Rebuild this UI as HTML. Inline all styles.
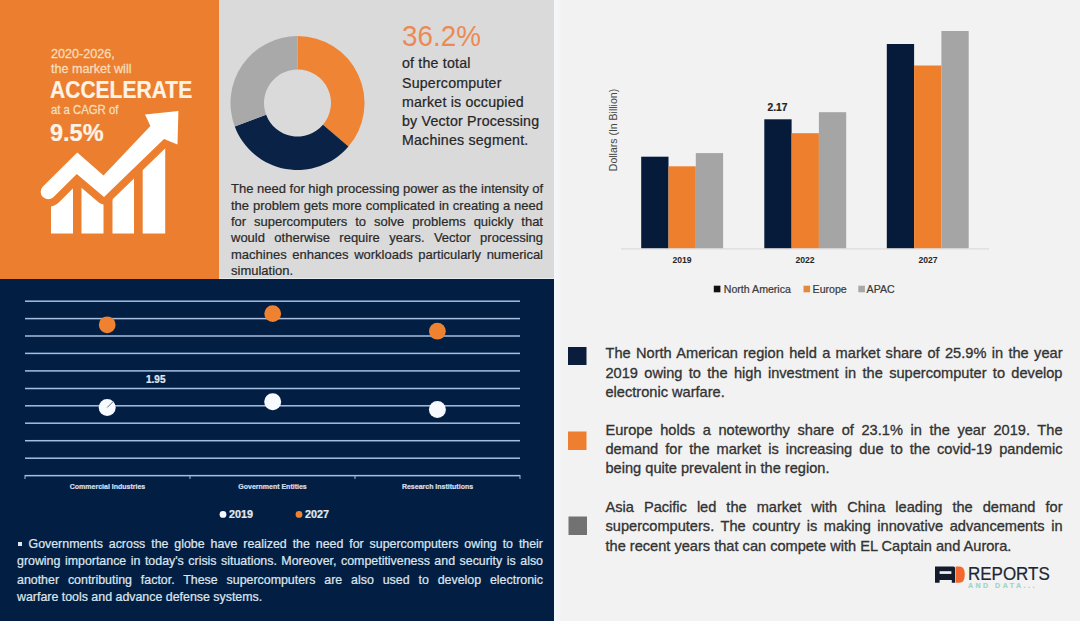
<!DOCTYPE html>
<html><head><meta charset="utf-8">
<style>
html,body{margin:0;padding:0;}
body{width:1080px;height:621px;overflow:hidden;position:relative;background:#f2f2f2;font-family:"Liberation Sans",sans-serif;}
.t{position:absolute;white-space:nowrap;-webkit-text-stroke:0.22px currentColor;}
.abs{position:absolute;}
</style></head><body>
<div class="abs" style="left:0;top:0;width:219px;height:279px;background:#eb7f2f;"></div>
<div class="abs" style="left:219px;top:0;width:335px;height:279px;background:#dadada;"></div>
<div class="abs" style="left:0;top:279px;width:554px;height:342px;background:#021f43;"></div>
<div class="abs" style="left:554px;top:0;width:8px;height:621px;background:linear-gradient(to right,#f4f8fc,#f2f2f2);"></div>
<div class="t" style="left:51px;top:46.67px;font-size:12.6px;line-height:15.12px;color:#f8dcbc;font-weight:normal;-webkit-text-stroke:0.3px #f8dcbc;">2020-2026,</div>
<div class="t" style="left:51px;top:61.77px;font-size:12.6px;line-height:15.12px;color:#f8dcbc;font-weight:normal;-webkit-text-stroke:0.3px #f8dcbc;">the market will</div>
<div class="t" style="left:50px;top:76.26px;font-size:23.5px;line-height:28.2px;color:#fdf3e6;font-weight:bold;transform:scaleX(0.895);transform-origin:0 0;">ACCELERATE</div>
<div class="t" style="left:51px;top:103.47px;font-size:12.6px;line-height:15.12px;color:#f8dcbc;font-weight:normal;transform:scaleX(0.9);transform-origin:0 0;-webkit-text-stroke:0.3px #f8dcbc;">at a CAGR of</div>
<div class="t" style="left:50px;top:118.76px;font-size:23.5px;line-height:28.2px;color:#fdf3e6;font-weight:bold;">9.5%</div>
<svg class="abs" style="left:0;top:0" width="219" height="278" viewBox="0 0 219 278">
<defs><clipPath id="bc"><polygon points="0,240 48,192 77,163.3 103.8,186.4 157.2,132.5 219,132.5 219,278 0,278"/></clipPath></defs>
<g clip-path="url(#bc)"><rect x="51" y="100" width="22" height="133.5" fill="#fff"/><rect x="81.5" y="100" width="22.0" height="133.5" fill="#fff"/><rect x="112.5" y="100" width="21.5" height="133.5" fill="#fff"/><rect x="142.7" y="100" width="22.5" height="133.5" fill="#fff"/></g>
<path d="M77.3,152.6 L103.5,175.6 L150.4,126 L145,114.5 L178.4,111 L177.5,144.4 L164,139 L104,197.1 L76.8,174 L53.3,197.3 A7.5,7.5 0 0 1 42.7,186.7 Z" fill="#eb7f2f" stroke="#eb7f2f" stroke-width="15" stroke-linejoin="round"/>
<path d="M77.3,152.6 L103.5,175.6 L150.4,126 L145,114.5 L178.4,111 L177.5,144.4 L164,139 L104,197.1 L76.8,174 L53.3,197.3 A7.5,7.5 0 0 1 42.7,186.7 Z" fill="#fff"/>
</svg>
<svg class="abs" style="left:0;top:0" width="554" height="278"><path d="M297.50,36.00 A67,67 0 0 1 348.45,146.51 L322.97,124.76 A33.5,33.5 0 0 0 297.50,69.50 Z" fill="#ee8434"/><path d="M348.45,146.51 A67,67 0 0 1 234.74,126.46 L266.12,114.73 A33.5,33.5 0 0 0 322.97,124.76 Z" fill="#0a2246"/><path d="M234.74,126.46 A67,67 0 0 1 297.50,36.00 L297.50,69.50 A33.5,33.5 0 0 0 266.12,114.73 Z" fill="#a9a9a9"/></svg>
<div class="t" style="left:402px;top:17.87px;font-size:29.3px;line-height:35.16px;color:#ec8a55;font-weight:normal;transform:scaleX(0.95);transform-origin:0 0;-webkit-text-stroke:0;">36.2%</div>
<div class="t" style="left:402px;top:54.86px;font-size:14.2px;line-height:17.04px;color:#262626;font-weight:normal;letter-spacing:0.2px;">of the total</div>
<div class="t" style="left:402px;top:74.56px;font-size:14.2px;line-height:17.04px;color:#262626;font-weight:normal;letter-spacing:0.2px;">Supercomputer</div>
<div class="t" style="left:402px;top:93.86px;font-size:14.2px;line-height:17.04px;color:#262626;font-weight:normal;letter-spacing:0.2px;">market is occupied</div>
<div class="t" style="left:402px;top:113.26px;font-size:14.2px;line-height:17.04px;color:#262626;font-weight:normal;letter-spacing:0.2px;">by Vector Processing</div>
<div class="t" style="left:402px;top:132.36px;font-size:14.2px;line-height:17.04px;color:#262626;font-weight:normal;letter-spacing:0.2px;">Machines segment.</div>
<div class="t" style="left:231px;top:181.10px;font-size:13px;line-height:15.6px;color:#2a2a2a;font-weight:normal;width:312px;text-align:justify;text-align-last:justify;">The need for high processing power as the intensity of</div>
<div class="t" style="left:231px;top:197.50px;font-size:13px;line-height:15.6px;color:#2a2a2a;font-weight:normal;width:312px;text-align:justify;text-align-last:justify;">the problem gets more complicated in creating a need</div>
<div class="t" style="left:231px;top:214.30px;font-size:13px;line-height:15.6px;color:#2a2a2a;font-weight:normal;width:312px;text-align:justify;text-align-last:justify;">for supercomputers to solve problems quickly that</div>
<div class="t" style="left:231px;top:230.20px;font-size:13px;line-height:15.6px;color:#2a2a2a;font-weight:normal;width:312px;text-align:justify;text-align-last:justify;">would otherwise require years. Vector processing</div>
<div class="t" style="left:231px;top:246.90px;font-size:13px;line-height:15.6px;color:#2a2a2a;font-weight:normal;width:312px;text-align:justify;text-align-last:justify;">machines enhances workloads particularly numerical</div>
<div class="t" style="left:231px;top:262.90px;font-size:13px;line-height:15.6px;color:#2a2a2a;font-weight:normal;width:312px;">simulation.</div>
<div class="abs" style="left:219px;top:277.6px;width:335px;height:1.4px;background:#e8ebef;"></div>
<div class="abs" style="left:0;top:279px;width:554px;height:6px;background:#021f43;"></div>
<svg class="abs" style="left:0;top:0" width="554" height="621">
<rect x="25" y="300.45" width="495" height="1.5" fill="#a6bedf"/><rect x="25" y="317.85" width="495" height="1.5" fill="#a6bedf"/><rect x="25" y="335.25" width="495" height="1.5" fill="#a6bedf"/><rect x="25" y="352.65" width="495" height="1.5" fill="#a6bedf"/><rect x="25" y="370.15" width="495" height="1.5" fill="#a6bedf"/><rect x="25" y="387.75" width="495" height="1.5" fill="#a6bedf"/><rect x="25" y="405.05" width="495" height="1.5" fill="#a6bedf"/><rect x="25" y="422.45" width="495" height="1.5" fill="#a6bedf"/><rect x="25" y="439.95" width="495" height="1.5" fill="#a6bedf"/><rect x="25" y="457.45" width="495" height="1.5" fill="#a6bedf"/><rect x="25" y="474.9" width="495" height="1.5" fill="#a6bedf"/><rect x="24.5" y="475" width="1" height="4" fill="#a6bedf"/><rect x="189.5" y="475" width="1" height="4" fill="#a6bedf"/><rect x="354.5" y="475" width="1" height="4" fill="#a6bedf"/><rect x="519.5" y="475" width="1" height="4" fill="#a6bedf"/>
<circle cx="107.2" cy="324.8" r="8.4" fill="#ee8230"/>
<circle cx="272.7" cy="313.6" r="8.4" fill="#ee8230"/>
<circle cx="437.4" cy="331.2" r="8.4" fill="#ee8230"/>
<circle cx="107.2" cy="407.5" r="8.5" fill="#f7fbff"/>
<circle cx="272.7" cy="401.8" r="8.5" fill="#f7fbff"/>
<circle cx="437.4" cy="409.6" r="8.5" fill="#f7fbff"/>
<line x1="107.2" y1="407.5" x2="113.5" y2="401.2" stroke="#5a6a80" stroke-width="1"/>
<circle cx="223" cy="514.4" r="3.4" fill="#f7fbff"/>
<circle cx="299" cy="514.4" r="3.4" fill="#ee8230"/>
</svg>
<div class="t" style="left:146px;top:373.84px;font-size:10px;line-height:12.0px;color:#e3e8f0;font-weight:bold;">1.95</div>
<div class="t" style="left:47.5px;width:120px;text-align:center;top:482.0px;font-size:7px;line-height:9px;font-weight:bold;color:#d6deea;">Commercial Industries</div>
<div class="t" style="left:212.5px;width:120px;text-align:center;top:482.0px;font-size:7px;line-height:9px;font-weight:bold;color:#d6deea;">Government Entities</div>
<div class="t" style="left:377.5px;width:120px;text-align:center;top:482.0px;font-size:7px;line-height:9px;font-weight:bold;color:#d6deea;">Research Institutions</div>
<div class="t" style="left:229px;top:507.58px;font-size:10.8px;line-height:12.96px;color:#e3e8f0;font-weight:bold;">2019</div>
<div class="t" style="left:305px;top:507.58px;font-size:10.8px;line-height:12.96px;color:#e3e8f0;font-weight:bold;">2027</div>
<div class="abs" style="left:17.8px;top:541.5px;width:4.6px;height:4.3px;background:#dfe5ee;"></div>
<div class="t" style="left:28.5px;top:536.76px;font-size:12.4px;line-height:14.88px;color:#dfe5ee;font-weight:normal;width:514.5px;text-align:justify;text-align-last:justify;">Governments across the globe have realized the need for supercomputers owing to their</div>
<div class="t" style="left:17px;top:554.36px;font-size:12.4px;line-height:14.88px;color:#dfe5ee;font-weight:normal;width:526px;text-align:justify;text-align-last:justify;">growing importance in today's crisis situations. Moreover, competitiveness and security is also</div>
<div class="t" style="left:17px;top:572.86px;font-size:12.4px;line-height:14.88px;color:#dfe5ee;font-weight:normal;width:526px;text-align:justify;text-align-last:justify;">another contributing factor. These supercomputers are also used to develop electronic</div>
<div class="t" style="left:17px;top:590.46px;font-size:12.4px;line-height:14.88px;color:#dfe5ee;font-weight:normal;width:526px;">warfare tools and advance defense systems.</div>
<svg class="abs" style="left:554px;top:0" width="526" height="621" viewBox="554 0 526 621">
<rect x="621" y="248.2" width="368" height="1.3" fill="#dcdcdc"/>
<rect x="641.20" y="156.7" width="27.30" height="91.50" fill="#061a3a"/><rect x="668.50" y="166.3" width="27.30" height="81.90" fill="#ee7f2d"/><rect x="695.80" y="153.1" width="27.30" height="95.10" fill="#a5a5a5"/><rect x="764.30" y="119.3" width="27.30" height="128.90" fill="#061a3a"/><rect x="791.60" y="133.2" width="27.30" height="115.00" fill="#ee7f2d"/><rect x="818.90" y="112.2" width="27.30" height="136.00" fill="#a5a5a5"/><rect x="886.80" y="44" width="27.30" height="204.20" fill="#061a3a"/><rect x="914.10" y="65.5" width="27.30" height="182.70" fill="#ee7f2d"/><rect x="941.40" y="31" width="27.30" height="217.20" fill="#a5a5a5"/>
<rect x="713.8" y="285.7" width="6.6" height="6.6" fill="#111"/>
<rect x="803.5" y="285.7" width="6.6" height="6.6" fill="#e3893f"/>
<rect x="858.3" y="285.7" width="6.6" height="6.6" fill="#a8a8a8"/>
<rect x="568" y="347" width="18.5" height="18" fill="#0b1d3d"/>
<rect x="568" y="431.5" width="18.5" height="18.5" fill="#ee7f30"/>
<rect x="568.5" y="516.5" width="18.5" height="18.5" fill="#727272"/>
</svg>
<div class="t" style="left:767.5px;top:101.55px;font-size:10.2px;line-height:12.24px;color:#222;font-weight:bold;">2.17</div>
<div class="t" style="left:652px;width:60px;text-align:center;top:255.3px;font-size:8.6px;line-height:10px;font-weight:bold;color:#262626;-webkit-text-stroke:0;">2019</div>
<div class="t" style="left:775px;width:60px;text-align:center;top:255.3px;font-size:8.6px;line-height:10px;font-weight:bold;color:#262626;-webkit-text-stroke:0;">2022</div>
<div class="t" style="left:898px;width:60px;text-align:center;top:255.3px;font-size:8.6px;line-height:10px;font-weight:bold;color:#262626;-webkit-text-stroke:0;">2027</div>
<div class="t" style="left:563px;top:124px;width:100px;height:12px;text-align:center;font-size:10.5px;line-height:12px;color:#444;-webkit-text-stroke:0;transform:rotate(-90deg);transform-origin:50% 50%;">Dollars (In Billion)</div>
<div class="t" style="left:723.8px;top:283.17px;font-size:10.6px;line-height:12.72px;color:#3a3a3a;font-weight:normal;">North America</div>
<div class="t" style="left:812.6px;top:283.17px;font-size:10.6px;line-height:12.72px;color:#3a3a3a;font-weight:normal;">Europe</div>
<div class="t" style="left:866.6px;top:283.17px;font-size:10.6px;line-height:12.72px;color:#3a3a3a;font-weight:normal;">APAC</div>
<div class="t" style="left:605.5px;top:345.48px;font-size:14.6px;line-height:17.52px;color:#333333;font-weight:normal;width:457px;text-align:justify;text-align-last:justify;-webkit-text-stroke:0.32px currentColor;">The North American region held a market share of 25.9% in the year</div>
<div class="t" style="left:605.5px;top:365.38px;font-size:14.6px;line-height:17.52px;color:#333333;font-weight:normal;width:457px;text-align:justify;text-align-last:justify;-webkit-text-stroke:0.32px currentColor;">2019 owing to the high investment in the supercomputer to develop</div>
<div class="t" style="left:605.5px;top:383.98px;font-size:14.6px;line-height:17.52px;color:#333333;font-weight:normal;width:457px;-webkit-text-stroke:0.32px currentColor;">electronic warfare.</div>
<div class="t" style="left:605.5px;top:422.48px;font-size:14.6px;line-height:17.52px;color:#333333;font-weight:normal;width:457px;text-align:justify;text-align-last:justify;-webkit-text-stroke:0.32px currentColor;">Europe holds a noteworthy share of 23.1% in the year 2019. The</div>
<div class="t" style="left:605.5px;top:441.18px;font-size:14.6px;line-height:17.52px;color:#333333;font-weight:normal;width:457px;text-align:justify;text-align-last:justify;-webkit-text-stroke:0.32px currentColor;">demand for the market is increasing due to the covid-19 pandemic</div>
<div class="t" style="left:605.5px;top:460.38px;font-size:14.6px;line-height:17.52px;color:#333333;font-weight:normal;width:457px;-webkit-text-stroke:0.32px currentColor;">being quite prevalent in the region.</div>
<div class="t" style="left:605.5px;top:499.38px;font-size:14.6px;line-height:17.52px;color:#333333;font-weight:normal;width:457px;text-align:justify;text-align-last:justify;-webkit-text-stroke:0.32px currentColor;">Asia Pacific led the market with China leading the demand for</div>
<div class="t" style="left:605.5px;top:518.28px;font-size:14.6px;line-height:17.52px;color:#333333;font-weight:normal;width:457px;text-align:justify;text-align-last:justify;-webkit-text-stroke:0.32px currentColor;">supercomputers. The country is making innovative advancements in</div>
<div class="t" style="left:605.5px;top:537.98px;font-size:14.6px;line-height:17.52px;color:#333333;font-weight:normal;width:457px;-webkit-text-stroke:0.32px currentColor;">the recent years that can compete with EL Captain and Aurora.</div>
<svg class="abs" style="left:930px;top:560px" width="40" height="30" viewBox="930 560 40 30">
<path d="M935,566.4 H953.5 Q955.1,566.4 955.1,568 V582.7 H951.8 V580 H939.6 V582.7 H935 Z" fill="#141c2b"/>
<rect x="939.6" y="571.2" width="11.8" height="2.7" fill="#eef1f4"/>
<path d="M955.6,566.4 H959.5 Q964.8,566.4 964.8,574.5 Q964.8,582.7 959.5,582.7 H955.6 Z" fill="#f2682e"/>
</svg>
<div class="t" style="left:968px;top:564.44px;font-size:17.5px;line-height:21.0px;color:#1e2633;font-weight:normal;transform:scaleX(0.97);transform-origin:0 0;">REPORTS</div>
<div class="t" style="left:968px;top:581.87px;font-size:7px;line-height:8.4px;color:#9fd6c9;font-weight:bold;letter-spacing:2.5px;">AND DATA...</div>
</body></html>
